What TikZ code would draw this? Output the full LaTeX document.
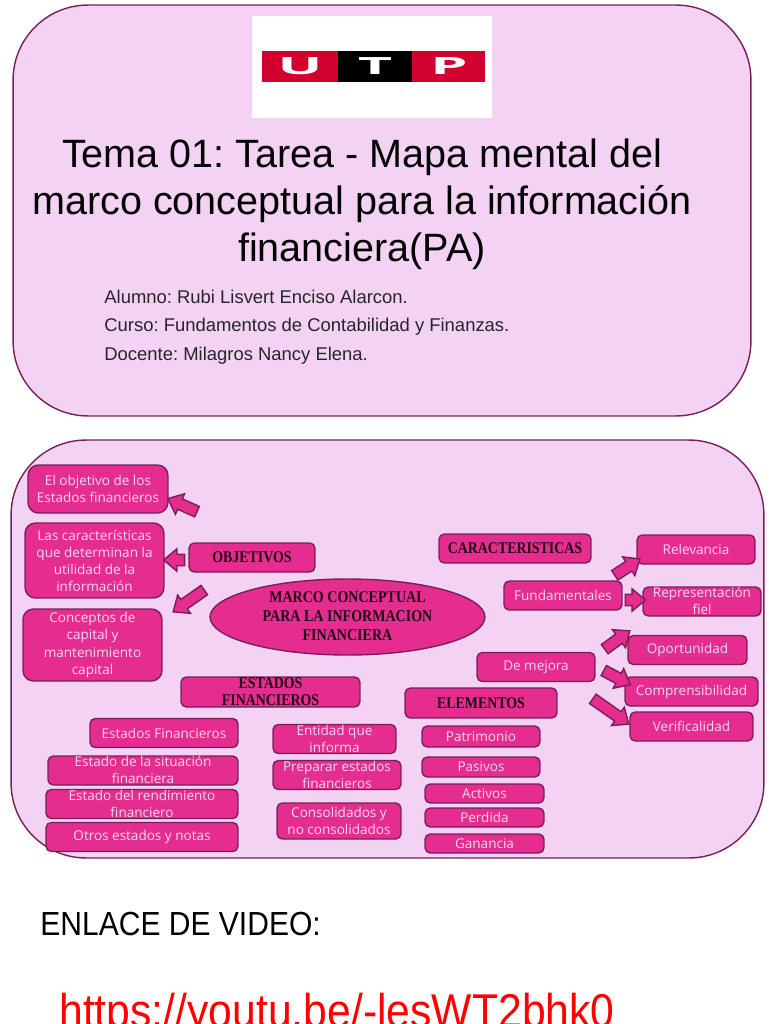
\documentclass[tikz,border=0pt]{standalone}
\usepackage{fontspec}
\usepackage{xcolor}
\usepackage{tikz}
\usetikzlibrary{shapes, shapes.arrows, positioning}
\setsansfont{Open Sans}
\newfontfamily\titlefont{Liberation Sans}
\newfontfamily\narrowfont[FakeStretch=0.9]{Liberation Sans}
\newfontfamily\headfont[FakeStretch=0.85]{Liberation Serif}
\definecolor{panelpink}{HTML}{F4D2F3}
\definecolor{panelline}{HTML}{7A1F5A}
\definecolor{boxpink}{HTML}{E52C8F}
\definecolor{boxtext}{HTML}{FAD9EE}
\definecolor{utpred}{HTML}{D2002E}

\begin{document}
\frenchspacing
\begin{tikzpicture}[
    x=0.02cm, y=-0.02cm,
    panel/.style={draw=panelline, thick, fill=panelpink, rounded corners=1.5cm, inner sep=0pt},
    item/.style={draw=panelline, thick, fill=boxpink, rounded corners=3pt, inner sep=0pt,
                 minimum height=0.58cm, align=center, font=\sffamily\fontsize{7.7}{9.7}\selectfont, text=boxtext},
    itemtxt/.style={inner sep=0pt, align=center, font=\sffamily\fontsize{7.7}{9.7}\selectfont, text=boxtext},
    head/.style={draw=panelline, thick, fill=boxpink, rounded corners=3pt, inner sep=0pt,
                 minimum height=0.58cm},
    headtxt/.style={inner sep=0pt, align=center, text=black!85!boxpink,
                    font=\headfont\bfseries\fontsize{9.3}{9.7}\selectfont},
    blockarr/.style={single arrow, draw=panelline, thick, fill=boxpink, inner sep=0pt,
                     text height=0.2cm, text depth=0pt, text width=0pt,
                     single arrow head extend=0.11cm, single arrow tip angle=80},
    info/.style={anchor=base west, inner sep=0pt, font=\titlefont\fontsize{10.5}{12}\selectfont, text=black!85},
    letter/.style={inner sep=0pt, text=white, font=\sffamily\bfseries\fontsize{13.5}{14}\selectfont}
]

\useasboundingbox (0,0) rectangle (768,1024);

% top panel
\node[panel, minimum width=14.76cm, minimum height=8.22cm] (toppanel) at (382,210.5) {};
\node[fill=white, inner sep=0pt, minimum width=4.8cm, minimum height=2.04cm] (logo) at (372,67) {};
\node[fill=utpred, inner sep=0pt, minimum width=4.48cm, minimum height=0.62cm] (band) at (373.5,66.5) {};
\node[fill=black, inner sep=0pt, minimum width=1.48cm, minimum height=0.62cm] (bandmid) at (375,66.5) {};
\node[letter] (letu) at (300,66) {\scalebox{2.5}[1]{U}};
\node[letter] (lett) at (375,66) {\scalebox{2.5}[1]{T}};
\node[letter] (letp) at (449,66) {\scalebox{2.5}[1]{P}};

\node[inner sep=0pt, align=center, font=\titlefont\fontsize{22.5}{26.8}\selectfont] (title) at (362,204)
    {Tema 01: Tarea - Mapa mental del\\marco conceptual para la información\\financiera(PA)};
\node[info] (alumno) at (104,303) {Alumno: Rubi Lisvert Enciso Alarcon.};
\node[info] (curso) at (104,331) {Curso: Fundamentos de Contabilidad y Finanzas.};
\node[info] (docente) at (104,360) {Docente: Milagros Nancy Elena.};

% bottom panel
\node[panel, minimum width=15.06cm, minimum height=8.36cm] (botpanel) at (387.5,649) {};

% central idea
\node[ellipse, draw=panelline, thick, fill=boxpink, inner sep=0pt, minimum width=5.5cm, minimum height=1.52cm] (marco) at (347.5,617) {};
\node[headtxt, font=\headfont\bfseries\fontsize{9.4}{10.8}\selectfont] (marcotxt) at (347.5,616) {MARCO CONCEPTUAL\\PARA LA INFORMACION\\FINANCIERA};

% objetivos
\node[head, minimum width=2.52cm] (objetivos) at (252,557.5) {};
\node[headtxt] (objetivostxt) at (252,557.5) {OBJETIVOS};
\node[item, minimum width=2.8cm, minimum height=0.96cm, rounded corners=6pt] (elobj) at (98,489) {El objetivo de los\\Estados financieros};
\node[item, minimum width=2.78cm, minimum height=1.5cm, rounded corners=6pt] (caract) at (94.5,560.5) {Las características\\que determinan la\\utilidad de la\\información};
\node[item, minimum width=2.78cm, minimum height=1.44cm, rounded corners=6pt] (concept) at (92.5,645) {Conceptos de\\capital y\\mantenimiento\\capital};

\node[blockarr, rotate=156, minimum height=0.64cm] (arrobja) at (185.5,506.5) {};
\node[blockarr, rotate=180, minimum height=0.42cm] (arrobjb) at (177.5,560) {};
\node[blockarr, rotate=215, minimum height=0.76cm] (arrobjc) at (191.5,599) {};

% caracteristicas
\node[head, minimum width=3.04cm] (caracter) at (515,548.5) {};
\node[headtxt] (caractertxt) at (515,548.5) {CARACTERISTICAS};
\node[item, minimum width=2.36cm] (fundam) at (563,595.5) {Fundamentales};
\node[item, minimum width=2.36cm] (relev) at (696,549.5) {Relevancia};
\node[item, minimum width=2.36cm] (repre) at (702,601.5) {};
\node[itemtxt] (repretxt) at (702,601) {Representación\\fiel};
\node[item, minimum width=2.36cm] (mejora) at (536,667) {De mejora};
\node[item, minimum width=2.38cm] (oport) at (687.5,650) {Oportunidad};
\node[item, minimum width=2.66cm] (compr) at (691.5,691.5) {Comprensibilidad};
\node[item, minimum width=2.46cm] (verif) at (691.5,726.5) {Verificalidad};

\node[blockarr, rotate=33, minimum height=0.6cm] (arrfuna) at (624.5,569) {};
\node[blockarr, rotate=0, minimum height=0.4cm] (arrfunb) at (632,600) {};
\node[blockarr, rotate=36, minimum height=0.62cm] (arrmeja) at (614.5,642) {};
\node[blockarr, rotate=-28, minimum height=0.6cm] (arrmejb) at (614,676) {};
\node[blockarr, rotate=-35, minimum height=0.88cm] (arrmejc) at (608,709.5) {};

% estados financieros
\node[head, minimum width=3.58cm, minimum height=0.6cm] (estados) at (270.5,692) {};
\node[headtxt] (estadostxt) at (270.5,692) {ESTADOS\\FINANCIEROS};
\node[item, minimum width=2.96cm] (estfin) at (164,733) {Estados Financieros};
\node[item, minimum width=3.8cm] (estsit) at (143,770.5) {};
\node[itemtxt] (estsittxt) at (143,770) {Estado de la situación\\financiera};
\node[item, minimum width=3.84cm] (estren) at (142,804) {};
\node[itemtxt] (estrentxt) at (142,803.5) {Estado del rendimiento\\financiero};
\node[item, minimum width=3.84cm] (otros) at (142,837) {Otros estados y notas};
\node[item, minimum width=2.46cm] (entidad) at (334.5,739) {};
\node[itemtxt] (entidadtxt) at (334.5,738.5) {Entidad que\\informa};
\node[item, minimum width=2.56cm] (preparar) at (337,775) {};
\node[itemtxt] (preparartxt) at (337,775) {Preparar estados\\financieros};
\node[item, minimum width=2.48cm, minimum height=0.72cm] (consol) at (339,821) {Consolidados y\\no consolidados};

% elementos
\node[head, minimum width=3.04cm, minimum height=0.6cm] (elementos) at (481,703) {};
\node[headtxt] (elementostxt) at (481,703) {ELEMENTOS};
\node[item, minimum width=2.36cm, minimum height=0.42cm] (patrim) at (481,736.5) {Patrimonio};
\node[item, minimum width=2.36cm, minimum height=0.4cm] (pasivos) at (481,767) {Pasivos};
\node[item, minimum width=2.38cm, minimum height=0.38cm] (activos) at (484.5,793.5) {Activos};
\node[item, minimum width=2.38cm, minimum height=0.38cm] (perdida) at (484.5,817.5) {Perdida};
\node[item, minimum width=2.38cm, minimum height=0.38cm] (ganancia) at (484.5,843.5) {Ganancia};

% enlace
\node[anchor=west, inner sep=0pt, font=\narrowfont\fontsize{19}{20}\selectfont] (enlace) at (40,924) {ENLACE DE VIDEO:};
\node[anchor=base west, inner sep=0pt, text=red, font=\narrowfont\fontsize{27}{28}\selectfont] (url) at (59,1027) {https://youtu.be/-lesWT2bhk0};

\end{tikzpicture}
\end{document}
